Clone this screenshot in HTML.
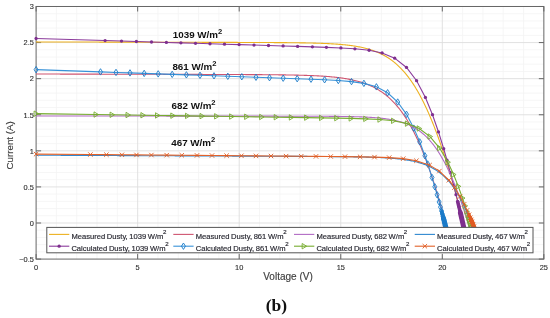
<!DOCTYPE html>
<html><head><meta charset="utf-8"><style>
html,body{margin:0;padding:0;background:#fff;}
body{width:550px;height:318px;overflow:hidden;position:relative;}
svg{position:absolute;left:0;top:0;}
</style></head><body>
<svg width="550" height="318" viewBox="0 0 550 318">
<path d="M56.41,6.49V259.08 M76.72,6.49V259.08 M97.03,6.49V259.08 M117.34,6.49V259.08 M157.96,6.49V259.08 M178.27,6.49V259.08 M198.58,6.49V259.08 M218.89,6.49V259.08 M259.51,6.49V259.08 M279.82,6.49V259.08 M300.13,6.49V259.08 M320.44,6.49V259.08 M361.06,6.49V259.08 M381.37,6.49V259.08 M401.68,6.49V259.08 M421.99,6.49V259.08 M462.61,6.49V259.08 M482.92,6.49V259.08 M503.23,6.49V259.08 M523.54,6.49V259.08 M36.10,251.87H543.85 M36.10,244.65H543.85 M36.10,237.43H543.85 M36.10,230.22H543.85 M36.10,215.78H543.85 M36.10,208.57H543.85 M36.10,201.35H543.85 M36.10,194.13H543.85 M36.10,179.70H543.85 M36.10,172.48H543.85 M36.10,165.26H543.85 M36.10,158.05H543.85 M36.10,143.61H543.85 M36.10,136.40H543.85 M36.10,129.18H543.85 M36.10,121.96H543.85 M36.10,107.53H543.85 M36.10,100.31H543.85 M36.10,93.09H543.85 M36.10,85.88H543.85 M36.10,71.44H543.85 M36.10,64.23H543.85 M36.10,57.01H543.85 M36.10,49.79H543.85 M36.10,35.36H543.85 M36.10,28.14H543.85 M36.10,20.92H543.85 M36.10,13.71H543.85" stroke="#F4F4F4" stroke-width="0.8" fill="none"/>
<path d="M137.65,6.49V259.08 M239.20,6.49V259.08 M340.75,6.49V259.08 M442.30,6.49V259.08 M36.10,223.00H543.85 M36.10,186.91H543.85 M36.10,150.83H543.85 M36.10,114.75H543.85 M36.10,78.66H543.85 M36.10,42.57H543.85" stroke="#DEDEDE" stroke-width="0.9" fill="none"/>
<rect x="36.10" y="6.49" width="507.75" height="252.59" fill="none" stroke="#666" stroke-width="1"/>
<path d="M36.10,259.08v-5M36.10,6.49v5M137.65,259.08v-5M137.65,6.49v5M239.20,259.08v-5M239.20,6.49v5M340.75,259.08v-5M340.75,6.49v5M442.30,259.08v-5M442.30,6.49v5M543.85,259.08v-5M543.85,6.49v5M36.10,259.08h5M543.85,259.08h-5M36.10,223.00h5M543.85,223.00h-5M36.10,186.91h5M543.85,186.91h-5M36.10,150.83h5M543.85,150.83h-5M36.10,114.75h5M543.85,114.75h-5M36.10,78.66h5M543.85,78.66h-5M36.10,42.57h5M543.85,42.57h-5M36.10,6.49h5M543.85,6.49h-5" stroke="#666" stroke-width="1" fill="none"/>
<path d="M36.10,41.92 L37.10,41.92 L38.13,41.93 L39.16,41.93 L40.18,41.93 L41.21,41.93 L42.24,41.94 L43.26,41.94 L44.29,41.94 L45.32,41.94 L46.34,41.95 L47.37,41.95 L48.40,41.95 L49.42,41.95 L50.45,41.96 L51.48,41.96 L52.51,41.96 L53.53,41.96 L54.56,41.97 L55.59,41.97 L56.61,41.97 L57.64,41.97 L58.67,41.98 L59.69,41.98 L60.72,41.98 L61.75,41.98 L62.77,41.99 L63.80,41.99 L64.83,41.99 L65.85,41.99 L66.88,42.00 L67.91,42.00 L68.93,42.00 L69.96,42.00 L70.99,42.01 L72.02,42.01 L73.04,42.01 L74.07,42.01 L75.10,42.02 L76.12,42.02 L77.15,42.02 L78.18,42.02 L79.20,42.03 L80.23,42.03 L81.26,42.03 L82.28,42.03 L83.31,42.04 L84.34,42.04 L85.36,42.04 L86.39,42.04 L87.42,42.05 L88.44,42.05 L89.47,42.05 L90.50,42.05 L91.52,42.06 L92.55,42.06 L93.58,42.06 L94.61,42.06 L95.63,42.07 L96.66,42.07 L97.69,42.07 L98.71,42.07 L99.74,42.08 L100.77,42.08 L101.79,42.08 L102.82,42.08 L103.85,42.09 L104.87,42.09 L105.90,42.09 L106.93,42.09 L107.95,42.10 L108.98,42.10 L110.01,42.10 L111.03,42.10 L112.06,42.11 L113.09,42.11 L114.12,42.11 L115.14,42.11 L116.17,42.12 L117.20,42.12 L118.22,42.12 L119.25,42.12 L120.28,42.13 L121.30,42.13 L122.33,42.13 L123.36,42.13 L124.38,42.14 L125.41,42.14 L126.44,42.14 L127.46,42.14 L128.49,42.15 L129.52,42.15 L130.54,42.15 L131.57,42.15 L132.60,42.15 L133.63,42.16 L134.65,42.16 L135.68,42.16 L136.71,42.16 L137.73,42.17 L138.76,42.17 L139.79,42.17 L140.81,42.17 L141.84,42.18 L142.87,42.18 L143.89,42.18 L144.92,42.18 L145.95,42.19 L146.97,42.19 L148.00,42.19 L149.03,42.19 L150.05,42.20 L151.08,42.20 L152.11,42.20 L153.13,42.20 L154.16,42.21 L155.19,42.21 L156.22,42.21 L157.24,42.21 L158.27,42.22 L159.30,42.22 L160.32,42.22 L161.35,42.22 L162.38,42.23 L163.40,42.23 L164.43,42.23 L165.46,42.23 L166.48,42.24 L167.51,42.24 L168.54,42.24 L169.56,42.24 L170.59,42.25 L171.62,42.25 L172.64,42.25 L173.67,42.25 L174.70,42.26 L175.73,42.26 L176.75,42.26 L177.78,42.26 L178.81,42.27 L179.83,42.27 L180.86,42.27 L181.89,42.28 L182.91,42.28 L183.94,42.28 L184.97,42.28 L185.99,42.29 L187.02,42.29 L188.05,42.29 L189.07,42.29 L190.10,42.30 L191.13,42.30 L192.15,42.30 L193.18,42.30 L194.21,42.31 L195.24,42.31 L196.26,42.31 L197.29,42.31 L198.32,42.32 L199.34,42.32 L200.37,42.32 L201.40,42.32 L202.42,42.33 L203.45,42.33 L204.48,42.33 L205.50,42.33 L206.53,42.34 L207.56,42.34 L208.58,42.34 L209.61,42.34 L210.64,42.35 L211.66,42.35 L212.69,42.35 L213.72,42.36 L214.75,42.36 L215.77,42.36 L216.80,42.36 L217.83,42.37 L218.85,42.37 L219.88,42.37 L220.91,42.38 L221.93,42.38 L222.96,42.38 L223.99,42.38 L225.01,42.39 L226.04,42.39 L227.07,42.39 L228.09,42.40 L229.12,42.40 L230.15,42.40 L231.18,42.40 L232.20,42.41 L233.23,42.41 L234.26,42.41 L235.28,42.42 L236.31,42.42 L237.34,42.42 L238.36,42.43 L239.39,42.43 L240.42,42.43 L241.44,42.44 L242.47,42.44 L243.50,42.44 L244.53,42.45 L245.55,42.45 L246.58,42.45 L247.61,42.46 L248.63,42.46 L249.66,42.46 L250.69,42.47 L251.71,42.47 L252.74,42.48 L253.77,42.48 L254.80,42.48 L255.82,42.49 L256.85,42.49 L257.88,42.50 L258.90,42.50 L259.93,42.50 L260.96,42.51 L261.99,42.51 L263.01,42.52 L264.04,42.52 L265.07,42.53 L266.09,42.53 L267.12,42.54 L268.15,42.54 L269.18,42.55 L270.20,42.56 L271.23,42.56 L272.26,42.57 L273.28,42.57 L274.31,42.58 L275.34,42.59 L276.37,42.59 L277.39,42.60 L278.42,42.61 L279.45,42.61 L280.48,42.62 L281.50,42.63 L282.53,42.64 L283.56,42.65 L284.59,42.65 L285.61,42.66 L286.64,42.67 L287.67,42.68 L288.70,42.69 L289.73,42.70 L290.75,42.71 L291.78,42.72 L292.81,42.74 L293.84,42.75 L294.87,42.76 L295.89,42.77 L296.92,42.79 L297.95,42.80 L298.98,42.82 L300.01,42.83 L301.04,42.85 L302.07,42.86 L303.09,42.88 L304.12,42.90 L305.15,42.92 L306.18,42.94 L307.21,42.96 L308.24,42.98 L309.27,43.00 L310.30,43.02 L311.33,43.05 L312.36,43.07 L313.39,43.10 L314.42,43.13 L315.45,43.15 L316.48,43.18 L317.51,43.21 L318.54,43.25 L319.57,43.28 L320.60,43.32 L321.64,43.35 L322.67,43.39 L323.70,43.43 L324.73,43.48 L325.76,43.52 L326.80,43.57 L327.83,43.62 L328.86,43.67 L329.90,43.72 L330.93,43.78 L331.97,43.84 L333.00,43.90 L334.04,43.96 L335.07,44.03 L336.11,44.10 L337.14,44.17 L338.18,44.25 L339.22,44.33 L340.26,44.42 L341.29,44.50 L342.33,44.60 L343.37,44.69 L344.41,44.80 L345.45,44.90 L346.50,45.02 L347.54,45.13 L348.58,45.26 L349.63,45.39 L350.67,45.52 L351.72,45.66 L352.76,45.81 L353.81,45.97 L354.86,46.13 L355.91,46.30 L356.96,46.48 L358.01,46.67 L359.06,46.87 L360.12,47.07 L361.17,47.29 L362.23,47.52 L363.29,47.76 L364.35,48.01 L365.32,48.25 L366.30,48.50 L367.28,48.76 L368.25,49.03 L369.23,49.32 L370.21,49.62 L371.20,49.93 L372.18,50.25 L373.17,50.59 L374.16,50.95 L375.15,51.32 L376.14,51.71 L377.14,52.11 L378.14,52.53 L379.14,52.97 L380.05,53.39 L380.96,53.83 L381.88,54.28 L382.80,54.75 L383.72,55.24 L384.65,55.75 L385.57,56.29 L386.50,56.84 L387.44,57.41 L388.37,58.01 L389.22,58.57 L390.07,59.15 L390.92,59.75 L391.77,60.37 L392.63,61.02 L393.49,61.69 L394.35,62.38 L395.12,63.02 L395.90,63.68 L396.67,64.36 L397.45,65.06 L398.23,65.78 L399.02,66.53 L399.81,67.30 L400.60,68.10 L401.30,68.82 L402.00,69.56 L402.70,70.32 L403.40,71.10 L404.11,71.90 L404.82,72.73 L405.53,73.58 L406.25,74.45 L406.97,75.35 L407.59,76.14 L408.21,76.95 L408.84,77.77 L409.47,78.62 L410.10,79.49 L410.73,80.38 L411.37,81.29 L412.01,82.23 L412.65,83.18 L413.29,84.16 L413.94,85.17 L414.49,86.02 L415.03,86.89 L415.58,87.78 L416.13,88.69 L416.68,89.61 L417.24,90.56 L417.80,91.52 L418.36,92.50 L418.92,93.51 L419.49,94.53 L420.06,95.57 L420.63,96.64 L421.20,97.72 L421.78,98.83 L422.24,99.73 L422.71,100.65 L423.18,101.58 L423.65,102.52 L424.12,103.49 L424.59,104.46 L425.07,105.45 L425.55,106.46 L426.03,107.49 L426.51,108.53 L427.00,109.59 L427.49,110.66 L427.98,111.75 L428.47,112.86 L428.96,113.99 L429.46,115.14 L429.96,116.30 L430.46,117.48 L430.97,118.69 L431.47,119.91 L431.86,120.84 L432.24,121.78 L432.62,122.73 L433.01,123.69 L433.40,124.66 L433.79,125.65 L434.18,126.65 L434.57,127.66 L434.97,128.68 L435.37,129.71 L435.76,130.76 L436.16,131.82 L436.57,132.89 L436.97,133.98 L437.37,135.08 L437.78,136.19 L438.19,137.31 L438.60,138.45 L439.01,139.60 L439.43,140.77 L439.84,141.95 L440.26,143.14 L440.68,144.35 L441.10,145.57 L441.53,146.81 L441.95,148.06 L442.38,149.33 L442.81,150.61 L443.24,151.91 L443.68,153.23 L444.11,154.56 L444.55,155.90 L444.99,157.26 L445.44,158.64 L445.88,160.04 L446.33,161.45 L446.78,162.88 L447.08,163.84 L447.38,164.81 L447.69,165.79 L447.99,166.77 L448.30,167.77 L448.60,168.77 L448.91,169.78 L449.22,170.79 L449.53,171.82 L449.84,172.85 L450.15,173.90 L450.46,174.95 L450.78,176.00 L451.09,177.07 L451.41,178.15 L451.73,179.23 L452.05,180.33 L452.37,181.43 L452.69,182.54 L453.01,183.66 L453.33,184.79 L453.66,185.92 L453.99,187.07 L454.31,188.23 L454.64,189.39 L454.97,190.57 L455.30,191.75 L455.64,192.94 L455.97,194.15 L456.30,195.36 L456.64,196.58 L456.98,197.81 L457.32,199.06 L457.66,200.31 L458.00,201.57 L458.34,202.84 L458.69,204.12 L459.03,205.42 L459.38,206.72 L459.73,208.03 L460.08,209.36 L460.43,210.69 L460.78,212.04 L461.14,213.39 L461.49,214.76 L461.85,216.14 L462.21,217.52 L462.57,218.92 L462.93,220.34 L463.30,221.76 L463.66,223.19 L464.03,224.64 L464.40,226.09 L464.77,227.56 L464.95,228.30" stroke="#EDB120" stroke-width="1.1" fill="none"/>
<path d="M36.10,38.49 L105.10,40.57 L121.50,41.07 L136.40,41.52 L151.50,41.98 L166.40,42.43 L180.90,42.86 L195.50,43.30 L210.00,43.74 L224.50,44.18 L239.10,44.62 L254.00,45.07 L268.50,45.51 L283.10,45.95 L297.60,46.40 L312.40,46.87 L326.40,47.36 L340.90,47.96 L354.90,48.79 L369.10,50.26 L382.10,52.93 L394.70,58.14 L406.50,67.45 L416.60,80.72 L425.40,97.42 L432.50,114.70 L438.50,131.95 L443.70,148.76 L447.00,160.27 L450.40,172.77 L453.60,185.09 L456.00,194.66 L457.64,201.36 L458.89,206.56 L459.84,210.55 L460.56,213.60 L461.10,215.92 L461.51,217.67 L461.85,219.11 L462.18,220.55 L462.51,222.00 L462.85,223.45 L463.18,224.90 L463.52,226.36 L463.85,227.82" stroke="#8B3A9B" stroke-width="1.1" fill="none"/>
<g><circle cx="36.10" cy="38.49" r="1.65" fill="#7E2F8E"/><circle cx="105.10" cy="40.57" r="1.65" fill="#7E2F8E"/><circle cx="121.50" cy="41.07" r="1.65" fill="#7E2F8E"/><circle cx="136.40" cy="41.52" r="1.65" fill="#7E2F8E"/><circle cx="151.50" cy="41.98" r="1.65" fill="#7E2F8E"/><circle cx="166.40" cy="42.43" r="1.65" fill="#7E2F8E"/><circle cx="180.90" cy="42.86" r="1.65" fill="#7E2F8E"/><circle cx="195.50" cy="43.30" r="1.65" fill="#7E2F8E"/><circle cx="210.00" cy="43.74" r="1.65" fill="#7E2F8E"/><circle cx="224.50" cy="44.18" r="1.65" fill="#7E2F8E"/><circle cx="239.10" cy="44.62" r="1.65" fill="#7E2F8E"/><circle cx="254.00" cy="45.07" r="1.65" fill="#7E2F8E"/><circle cx="268.50" cy="45.51" r="1.65" fill="#7E2F8E"/><circle cx="283.10" cy="45.95" r="1.65" fill="#7E2F8E"/><circle cx="297.60" cy="46.40" r="1.65" fill="#7E2F8E"/><circle cx="312.40" cy="46.87" r="1.65" fill="#7E2F8E"/><circle cx="326.40" cy="47.36" r="1.65" fill="#7E2F8E"/><circle cx="340.90" cy="47.96" r="1.65" fill="#7E2F8E"/><circle cx="354.90" cy="48.79" r="1.65" fill="#7E2F8E"/><circle cx="369.10" cy="50.26" r="1.65" fill="#7E2F8E"/><circle cx="382.10" cy="52.93" r="1.65" fill="#7E2F8E"/><circle cx="394.70" cy="58.14" r="1.65" fill="#7E2F8E"/><circle cx="406.50" cy="67.45" r="1.65" fill="#7E2F8E"/><circle cx="416.60" cy="80.72" r="1.65" fill="#7E2F8E"/><circle cx="425.40" cy="97.42" r="1.65" fill="#7E2F8E"/><circle cx="432.50" cy="114.70" r="1.65" fill="#7E2F8E"/><circle cx="438.50" cy="131.95" r="1.65" fill="#7E2F8E"/><circle cx="443.70" cy="148.76" r="1.65" fill="#7E2F8E"/><circle cx="447.00" cy="160.27" r="1.65" fill="#7E2F8E"/><circle cx="450.40" cy="172.77" r="1.65" fill="#7E2F8E"/><circle cx="453.60" cy="185.09" r="1.65" fill="#7E2F8E"/><circle cx="456.00" cy="194.66" r="1.65" fill="#7E2F8E"/><circle cx="457.64" cy="201.36" r="1.65" fill="#7E2F8E"/><circle cx="458.89" cy="206.56" r="1.65" fill="#7E2F8E"/><circle cx="459.84" cy="210.55" r="1.65" fill="#7E2F8E"/><circle cx="460.56" cy="213.60" r="1.65" fill="#7E2F8E"/><circle cx="461.10" cy="215.92" r="1.65" fill="#7E2F8E"/><circle cx="461.51" cy="217.67" r="1.65" fill="#7E2F8E"/><circle cx="461.85" cy="219.11" r="1.65" fill="#7E2F8E"/><circle cx="462.18" cy="220.55" r="1.65" fill="#7E2F8E"/><circle cx="462.51" cy="222.00" r="1.65" fill="#7E2F8E"/><circle cx="462.85" cy="223.45" r="1.65" fill="#7E2F8E"/><circle cx="463.18" cy="224.90" r="1.65" fill="#7E2F8E"/><circle cx="463.52" cy="226.36" r="1.65" fill="#7E2F8E"/><circle cx="463.85" cy="227.82" r="1.65" fill="#7E2F8E"/></g>
<path d="M457.82,202.10 L458.03,202.97 L458.24,203.85 L458.45,204.73 L458.67,205.62 L458.88,206.51 L459.09,207.41 L459.31,208.31 L459.52,209.22 L459.74,210.13 L459.96,211.05 L460.18,211.97 L460.40,212.90 L460.62,213.84 L460.84,214.78 L461.06,215.72 L461.28,216.67 L461.50,217.63 L461.73,218.59 L461.95,219.55 L462.17,220.52 L462.40,221.50 L462.63,222.49 L462.85,223.47 L463.08,224.47 L463.31,225.47 L463.54,226.47 L463.77,227.49 L464.00,228.50 L464.00,228.50" stroke="#7E2F8E" stroke-width="3.6" stroke-linecap="round" fill="none"/>
<path d="M460.40,212.90 L460.62,213.84 L460.84,214.78 L461.06,215.72 L461.28,216.67 L461.50,217.63 L461.73,218.59 L461.95,219.55 L462.17,220.52 L462.40,221.50 L462.63,222.49 L462.85,223.47 L463.08,224.47 L463.31,225.47 L463.54,226.47 L463.77,227.49 L464.00,228.50 L464.00,228.50" stroke="#7E2F8E" stroke-width="5.0" stroke-linecap="round" fill="none"/>
<path d="M36.10,74.02 L37.16,74.02 L38.22,74.02 L39.29,74.03 L40.35,74.03 L41.42,74.03 L42.48,74.03 L43.55,74.04 L44.61,74.04 L45.68,74.04 L46.74,74.04 L47.81,74.05 L48.87,74.05 L49.94,74.05 L51.00,74.05 L52.07,74.06 L53.13,74.06 L54.20,74.06 L55.26,74.06 L56.33,74.07 L57.39,74.07 L58.46,74.07 L59.52,74.07 L60.59,74.08 L61.65,74.08 L62.72,74.08 L63.78,74.08 L64.85,74.09 L65.91,74.09 L66.98,74.09 L68.04,74.10 L69.11,74.10 L70.17,74.10 L71.24,74.10 L72.30,74.11 L73.37,74.11 L74.43,74.11 L75.50,74.11 L76.56,74.12 L77.63,74.12 L78.69,74.12 L79.76,74.12 L80.82,74.13 L81.89,74.13 L82.95,74.13 L84.02,74.13 L85.08,74.14 L86.15,74.14 L87.21,74.14 L88.28,74.14 L89.34,74.15 L90.41,74.15 L91.47,74.15 L92.54,74.15 L93.60,74.16 L94.67,74.16 L95.73,74.16 L96.80,74.16 L97.86,74.17 L98.93,74.17 L99.99,74.17 L101.06,74.17 L102.13,74.18 L103.19,74.18 L104.26,74.18 L105.32,74.18 L106.39,74.19 L107.45,74.19 L108.52,74.19 L109.58,74.19 L110.65,74.20 L111.71,74.20 L112.78,74.20 L113.84,74.20 L114.91,74.21 L115.97,74.21 L117.04,74.21 L118.10,74.22 L119.17,74.22 L120.23,74.22 L121.30,74.22 L122.36,74.23 L123.43,74.23 L124.49,74.23 L125.56,74.23 L126.62,74.24 L127.69,74.24 L128.75,74.24 L129.82,74.24 L130.88,74.25 L131.95,74.25 L133.01,74.25 L134.08,74.25 L135.14,74.26 L136.21,74.26 L137.27,74.26 L138.34,74.26 L139.40,74.27 L140.47,74.27 L141.53,74.27 L142.60,74.27 L143.66,74.28 L144.73,74.28 L145.79,74.28 L146.86,74.28 L147.92,74.29 L148.99,74.29 L150.05,74.29 L151.12,74.30 L152.18,74.30 L153.25,74.30 L154.31,74.30 L155.38,74.31 L156.44,74.31 L157.51,74.31 L158.57,74.31 L159.64,74.32 L160.70,74.32 L161.77,74.32 L162.83,74.32 L163.90,74.33 L164.96,74.33 L166.03,74.33 L167.09,74.33 L168.16,74.34 L169.22,74.34 L170.29,74.34 L171.35,74.34 L172.42,74.35 L173.48,74.35 L174.55,74.35 L175.61,74.36 L176.68,74.36 L177.74,74.36 L178.81,74.36 L179.87,74.37 L180.94,74.37 L182.00,74.37 L183.07,74.37 L184.13,74.38 L185.20,74.38 L186.26,74.38 L187.33,74.39 L188.39,74.39 L189.46,74.39 L190.52,74.39 L191.59,74.40 L192.65,74.40 L193.72,74.40 L194.78,74.40 L195.85,74.41 L196.91,74.41 L197.98,74.41 L199.04,74.42 L200.11,74.42 L201.17,74.42 L202.24,74.42 L203.30,74.43 L204.37,74.43 L205.43,74.43 L206.50,74.44 L207.56,74.44 L208.63,74.44 L209.70,74.45 L210.76,74.45 L211.83,74.45 L212.89,74.46 L213.96,74.46 L215.02,74.46 L216.09,74.46 L217.15,74.47 L218.22,74.47 L219.28,74.47 L220.35,74.48 L221.41,74.48 L222.48,74.49 L223.54,74.49 L224.61,74.49 L225.67,74.50 L226.74,74.50 L227.80,74.50 L228.87,74.51 L229.93,74.51 L231.00,74.51 L232.06,74.52 L233.13,74.52 L234.19,74.53 L235.26,74.53 L236.32,74.53 L237.39,74.54 L238.45,74.54 L239.52,74.55 L240.58,74.55 L241.65,74.56 L242.72,74.56 L243.78,74.57 L244.85,74.57 L245.91,74.58 L246.98,74.58 L248.04,74.59 L249.11,74.59 L250.17,74.60 L251.24,74.60 L252.30,74.61 L253.37,74.61 L254.43,74.62 L255.50,74.63 L256.56,74.63 L257.63,74.64 L258.70,74.65 L259.76,74.65 L260.83,74.66 L261.89,74.67 L262.96,74.68 L264.02,74.68 L265.09,74.69 L266.15,74.70 L267.22,74.71 L268.29,74.72 L269.35,74.73 L270.42,74.74 L271.48,74.75 L272.55,74.76 L273.61,74.77 L274.68,74.78 L275.75,74.79 L276.81,74.80 L277.88,74.81 L278.94,74.83 L280.01,74.84 L281.08,74.85 L282.14,74.87 L283.21,74.88 L284.28,74.90 L285.34,74.91 L286.41,74.93 L287.48,74.95 L288.54,74.96 L289.61,74.98 L290.68,75.00 L291.74,75.02 L292.81,75.04 L293.88,75.06 L294.94,75.09 L296.01,75.11 L297.08,75.13 L298.14,75.16 L299.21,75.18 L300.28,75.21 L301.35,75.24 L302.42,75.27 L303.48,75.30 L304.55,75.34 L305.62,75.37 L306.69,75.40 L307.76,75.44 L308.83,75.48 L309.89,75.52 L310.96,75.56 L312.03,75.61 L313.10,75.65 L314.17,75.70 L315.24,75.75 L316.31,75.80 L317.38,75.86 L318.45,75.91 L319.52,75.97 L320.60,76.04 L321.67,76.10 L322.74,76.17 L323.81,76.24 L324.88,76.31 L325.96,76.39 L327.03,76.47 L328.10,76.56 L329.18,76.65 L330.25,76.74 L331.33,76.84 L332.40,76.94 L333.48,77.04 L334.55,77.15 L335.63,77.27 L336.62,77.38 L337.62,77.50 L338.61,77.62 L339.61,77.75 L340.61,77.88 L341.60,78.01 L342.60,78.16 L343.60,78.31 L344.60,78.46 L345.60,78.62 L346.60,78.79 L347.60,78.97 L348.60,79.15 L349.60,79.34 L350.61,79.54 L351.61,79.75 L352.62,79.97 L353.62,80.19 L354.63,80.43 L355.64,80.67 L356.65,80.93 L357.66,81.20 L358.67,81.48 L359.68,81.77 L360.69,82.07 L361.71,82.38 L362.73,82.71 L363.74,83.06 L364.76,83.41 L365.79,83.79 L366.72,84.14 L367.66,84.51 L368.60,84.90 L369.55,85.30 L370.49,85.71 L371.43,86.15 L372.38,86.59 L373.33,87.06 L374.28,87.55 L375.23,88.05 L376.19,88.57 L377.06,89.07 L377.93,89.58 L378.80,90.11 L379.68,90.66 L380.56,91.22 L381.44,91.81 L382.32,92.42 L383.20,93.05 L384.09,93.70 L384.89,94.31 L385.69,94.94 L386.49,95.59 L387.30,96.25 L388.11,96.94 L388.92,97.66 L389.73,98.39 L390.54,99.15 L391.27,99.84 L392.00,100.56 L392.73,101.29 L393.46,102.04 L394.20,102.82 L394.94,103.62 L395.68,104.44 L396.42,105.29 L397.07,106.05 L397.72,106.82 L398.38,107.62 L399.04,108.44 L399.70,109.27 L400.36,110.13 L401.02,111.01 L401.69,111.91 L402.35,112.84 L403.03,113.78 L403.60,114.61 L404.18,115.46 L404.76,116.33 L405.34,117.21 L405.93,118.11 L406.51,119.04 L407.10,119.98 L407.69,120.94 L408.29,121.92 L408.88,122.93 L409.48,123.95 L409.98,124.82 L410.48,125.71 L410.98,126.61 L411.48,127.53 L411.99,128.46 L412.50,129.41 L413.01,130.38 L413.52,131.36 L414.03,132.36 L414.54,133.38 L415.06,134.42 L415.58,135.48 L416.10,136.55 L416.62,137.65 L417.14,138.76 L417.67,139.89 L418.09,140.81 L418.52,141.75 L418.94,142.69 L419.37,143.65 L419.79,144.63 L420.22,145.62 L420.65,146.62 L421.09,147.63 L421.52,148.66 L421.96,149.71 L422.39,150.77 L422.83,151.84 L423.27,152.93 L423.71,154.04 L424.15,155.16 L424.60,156.29 L425.04,157.45 L425.49,158.62 L425.94,159.80 L426.39,161.00 L426.85,162.22 L427.30,163.46 L427.76,164.72 L428.10,165.67 L428.45,166.63 L428.79,167.60 L429.14,168.58 L429.49,169.58 L429.84,170.58 L430.19,171.60 L430.54,172.62 L430.89,173.66 L431.24,174.70 L431.60,175.76 L431.95,176.83 L432.31,177.91 L432.67,179.00 L433.03,180.11 L433.39,181.22 L433.75,182.35 L434.11,183.49 L434.48,184.64 L434.84,185.80 L435.21,186.98 L435.58,188.17 L435.95,189.37 L436.32,190.58 L436.69,191.81 L437.06,193.05 L437.44,194.30 L437.81,195.57 L438.19,196.85 L438.57,198.14 L438.95,199.44 L439.33,200.76 L439.71,202.10 L440.10,203.45 L440.48,204.81 L440.87,206.19 L441.26,207.58 L441.65,208.98 L442.04,210.41 L442.43,211.84 L442.70,212.81 L442.96,213.78 L443.23,214.76 L443.49,215.75 L443.76,216.74 L444.02,217.74 L444.29,218.75 L444.56,219.76 L444.83,220.79 L445.10,221.81 L445.37,222.85 L445.64,223.89 L445.91,224.95 L446.18,226.00 L446.46,227.07 L446.73,228.14 L446.87,228.68" stroke="#CF5570" stroke-width="1.1" fill="none"/>
<path d="M36.10,69.67 L100.50,71.89 L116.00,72.43 L130.00,72.91 L144.20,73.40 L158.20,73.88 L172.20,74.36 L186.40,74.85 L200.00,75.32 L214.00,75.81 L227.80,76.28 L241.80,76.77 L256.00,77.26 L269.50,77.72 L283.20,78.20 L297.20,78.70 L311.00,79.22 L324.60,79.79 L338.30,80.52 L351.50,81.59 L363.90,83.37 L376.40,86.84 L387.60,92.77 L397.70,102.01 L406.50,114.32 L413.80,128.13 L419.70,141.83 L424.90,155.76 L427.70,163.96 L432.00,177.45 L434.80,186.79 L437.10,194.77 L439.10,201.94 L440.50,207.07 L441.55,210.98 L442.34,213.97 L442.94,216.23 L443.39,217.94 L443.77,219.40 L444.15,220.87 L444.53,222.35 L444.91,223.83 L445.29,225.32 L445.67,226.81 L446.05,228.31" stroke="#3892D8" stroke-width="1.1" fill="none"/>
<g><path d="M36.10,66.47L38.10,69.67L36.10,72.87L34.10,69.67Z" fill="none" stroke="#1A7AC8" stroke-width="0.9"/><path d="M100.50,68.69L102.50,71.89L100.50,75.09L98.50,71.89Z" fill="none" stroke="#1A7AC8" stroke-width="0.9"/><path d="M116.00,69.23L118.00,72.43L116.00,75.63L114.00,72.43Z" fill="none" stroke="#1A7AC8" stroke-width="0.9"/><path d="M130.00,69.71L132.00,72.91L130.00,76.11L128.00,72.91Z" fill="none" stroke="#1A7AC8" stroke-width="0.9"/><path d="M144.20,70.20L146.20,73.40L144.20,76.60L142.20,73.40Z" fill="none" stroke="#1A7AC8" stroke-width="0.9"/><path d="M158.20,70.68L160.20,73.88L158.20,77.08L156.20,73.88Z" fill="none" stroke="#1A7AC8" stroke-width="0.9"/><path d="M172.20,71.16L174.20,74.36L172.20,77.56L170.20,74.36Z" fill="none" stroke="#1A7AC8" stroke-width="0.9"/><path d="M186.40,71.65L188.40,74.85L186.40,78.05L184.40,74.85Z" fill="none" stroke="#1A7AC8" stroke-width="0.9"/><path d="M200.00,72.12L202.00,75.32L200.00,78.52L198.00,75.32Z" fill="none" stroke="#1A7AC8" stroke-width="0.9"/><path d="M214.00,72.61L216.00,75.81L214.00,79.01L212.00,75.81Z" fill="none" stroke="#1A7AC8" stroke-width="0.9"/><path d="M227.80,73.08L229.80,76.28L227.80,79.48L225.80,76.28Z" fill="none" stroke="#1A7AC8" stroke-width="0.9"/><path d="M241.80,73.57L243.80,76.77L241.80,79.97L239.80,76.77Z" fill="none" stroke="#1A7AC8" stroke-width="0.9"/><path d="M256.00,74.06L258.00,77.26L256.00,80.46L254.00,77.26Z" fill="none" stroke="#1A7AC8" stroke-width="0.9"/><path d="M269.50,74.52L271.50,77.72L269.50,80.92L267.50,77.72Z" fill="none" stroke="#1A7AC8" stroke-width="0.9"/><path d="M283.20,75.00L285.20,78.20L283.20,81.40L281.20,78.20Z" fill="none" stroke="#1A7AC8" stroke-width="0.9"/><path d="M297.20,75.50L299.20,78.70L297.20,81.90L295.20,78.70Z" fill="none" stroke="#1A7AC8" stroke-width="0.9"/><path d="M311.00,76.02L313.00,79.22L311.00,82.42L309.00,79.22Z" fill="none" stroke="#1A7AC8" stroke-width="0.9"/><path d="M324.60,76.59L326.60,79.79L324.60,82.99L322.60,79.79Z" fill="none" stroke="#1A7AC8" stroke-width="0.9"/><path d="M338.30,77.32L340.30,80.52L338.30,83.72L336.30,80.52Z" fill="none" stroke="#1A7AC8" stroke-width="0.9"/><path d="M351.50,78.39L353.50,81.59L351.50,84.79L349.50,81.59Z" fill="none" stroke="#1A7AC8" stroke-width="0.9"/><path d="M363.90,80.17L365.90,83.37L363.90,86.57L361.90,83.37Z" fill="none" stroke="#1A7AC8" stroke-width="0.9"/><path d="M376.40,83.64L378.40,86.84L376.40,90.04L374.40,86.84Z" fill="none" stroke="#1A7AC8" stroke-width="0.9"/><path d="M387.60,89.57L389.60,92.77L387.60,95.97L385.60,92.77Z" fill="none" stroke="#1A7AC8" stroke-width="0.9"/><path d="M397.70,98.81L399.70,102.01L397.70,105.21L395.70,102.01Z" fill="none" stroke="#1A7AC8" stroke-width="0.9"/><path d="M406.50,111.12L408.50,114.32L406.50,117.52L404.50,114.32Z" fill="none" stroke="#1A7AC8" stroke-width="0.9"/><path d="M413.80,124.93L415.80,128.13L413.80,131.33L411.80,128.13Z" fill="none" stroke="#1A7AC8" stroke-width="0.9"/><path d="M419.70,138.63L421.70,141.83L419.70,145.03L417.70,141.83Z" fill="none" stroke="#1A7AC8" stroke-width="0.9"/><path d="M424.90,152.56L426.90,155.76L424.90,158.96L422.90,155.76Z" fill="none" stroke="#1A7AC8" stroke-width="0.9"/><path d="M427.70,160.76L429.70,163.96L427.70,167.16L425.70,163.96Z" fill="none" stroke="#1A7AC8" stroke-width="0.9"/><path d="M432.00,174.25L434.00,177.45L432.00,180.65L430.00,177.45Z" fill="none" stroke="#1A7AC8" stroke-width="0.9"/><path d="M434.80,183.59L436.80,186.79L434.80,189.99L432.80,186.79Z" fill="none" stroke="#1A7AC8" stroke-width="0.9"/><path d="M437.10,191.57L439.10,194.77L437.10,197.97L435.10,194.77Z" fill="none" stroke="#1A7AC8" stroke-width="0.9"/><path d="M439.10,198.74L441.10,201.94L439.10,205.14L437.10,201.94Z" fill="none" stroke="#1A7AC8" stroke-width="0.9"/><path d="M440.50,203.87L442.50,207.07L440.50,210.27L438.50,207.07Z" fill="none" stroke="#1A7AC8" stroke-width="0.9"/><path d="M441.55,207.78L443.55,210.98L441.55,214.18L439.55,210.98Z" fill="none" stroke="#1A7AC8" stroke-width="0.9"/><path d="M442.34,210.77L444.34,213.97L442.34,217.17L440.34,213.97Z" fill="none" stroke="#1A7AC8" stroke-width="0.9"/><path d="M442.94,213.03L444.94,216.23L442.94,219.43L440.94,216.23Z" fill="none" stroke="#1A7AC8" stroke-width="0.9"/><path d="M443.39,214.74L445.39,217.94L443.39,221.14L441.39,217.94Z" fill="none" stroke="#1A7AC8" stroke-width="0.9"/><path d="M443.77,216.20L445.77,219.40L443.77,222.60L441.77,219.40Z" fill="none" stroke="#1A7AC8" stroke-width="0.9"/><path d="M444.15,217.67L446.15,220.87L444.15,224.07L442.15,220.87Z" fill="none" stroke="#1A7AC8" stroke-width="0.9"/><path d="M444.53,219.15L446.53,222.35L444.53,225.55L442.53,222.35Z" fill="none" stroke="#1A7AC8" stroke-width="0.9"/><path d="M444.91,220.63L446.91,223.83L444.91,227.03L442.91,223.83Z" fill="none" stroke="#1A7AC8" stroke-width="0.9"/><path d="M445.29,222.12L447.29,225.32L445.29,228.52L443.29,225.32Z" fill="none" stroke="#1A7AC8" stroke-width="0.9"/><path d="M445.67,223.61L447.67,226.81L445.67,230.01L443.67,226.81Z" fill="none" stroke="#1A7AC8" stroke-width="0.9"/><path d="M446.05,225.11L448.05,228.31L446.05,231.51L444.05,228.31Z" fill="none" stroke="#1A7AC8" stroke-width="0.9"/></g>
<path d="M441.74,211.69 L441.93,212.42 L442.13,213.15 L442.32,213.88 L442.52,214.62 L442.71,215.36 L442.91,216.11 L443.11,216.86 L443.30,217.62 L443.50,218.38 L443.70,219.14 L443.90,219.91 L444.10,220.68 L444.30,221.46 L444.50,222.24 L444.70,223.02 L444.91,223.81 L445.11,224.61 L445.32,225.41 L445.52,226.21 L445.73,227.02 L445.93,227.83 L446.14,228.65 L446.14,228.65" stroke="#1A7AC8" stroke-width="3.6" stroke-linecap="round" fill="none"/>
<path d="M443.50,218.38 L443.70,219.14 L443.90,219.91 L444.10,220.68 L444.30,221.46 L444.50,222.24 L444.70,223.02 L444.91,223.81 L445.11,224.61 L445.32,225.41 L445.52,226.21 L445.73,227.02 L445.93,227.83 L446.14,228.65 L446.14,228.65" stroke="#1A7AC8" stroke-width="5.0" stroke-linecap="round" fill="none"/>
<path d="M36.10,115.96 L37.13,115.97 L38.17,115.97 L39.21,115.97 L40.24,115.97 L41.28,115.97 L42.32,115.97 L43.36,115.97 L44.39,115.97 L45.43,115.97 L46.47,115.97 L47.50,115.97 L48.54,115.98 L49.58,115.98 L50.61,115.98 L51.65,115.98 L52.69,115.98 L53.72,115.98 L54.76,115.98 L55.80,115.98 L56.84,115.98 L57.87,115.98 L58.91,115.98 L59.95,115.98 L60.98,115.99 L62.02,115.99 L63.06,115.99 L64.09,115.99 L65.13,115.99 L66.17,115.99 L67.21,115.99 L68.24,115.99 L69.28,115.99 L70.32,115.99 L71.35,115.99 L72.39,116.00 L73.43,116.00 L74.46,116.00 L75.50,116.00 L76.54,116.00 L77.58,116.00 L78.61,116.00 L79.65,116.00 L80.69,116.00 L81.72,116.00 L82.76,116.00 L83.80,116.01 L84.83,116.01 L85.87,116.01 L86.91,116.01 L87.95,116.01 L88.98,116.01 L90.02,116.01 L91.06,116.01 L92.09,116.01 L93.13,116.01 L94.17,116.01 L95.20,116.01 L96.24,116.02 L97.28,116.02 L98.32,116.02 L99.35,116.02 L100.39,116.02 L101.43,116.02 L102.46,116.02 L103.50,116.02 L104.54,116.02 L105.57,116.02 L106.61,116.02 L107.65,116.03 L108.68,116.03 L109.72,116.03 L110.76,116.03 L111.80,116.03 L112.83,116.03 L113.87,116.03 L114.91,116.03 L115.94,116.03 L116.98,116.03 L118.02,116.03 L119.05,116.03 L120.09,116.04 L121.13,116.04 L122.17,116.04 L123.20,116.04 L124.24,116.04 L125.28,116.04 L126.31,116.04 L127.35,116.04 L128.39,116.04 L129.42,116.04 L130.46,116.04 L131.50,116.05 L132.54,116.05 L133.57,116.05 L134.61,116.05 L135.65,116.05 L136.68,116.05 L137.72,116.05 L138.76,116.05 L139.79,116.05 L140.83,116.05 L141.87,116.05 L142.91,116.06 L143.94,116.06 L144.98,116.06 L146.02,116.06 L147.05,116.06 L148.09,116.06 L149.13,116.06 L150.16,116.06 L151.20,116.06 L152.24,116.06 L153.28,116.06 L154.31,116.06 L155.35,116.07 L156.39,116.07 L157.42,116.07 L158.46,116.07 L159.50,116.07 L160.53,116.07 L161.57,116.07 L162.61,116.07 L163.65,116.07 L164.68,116.07 L165.72,116.07 L166.76,116.08 L167.79,116.08 L168.83,116.08 L169.87,116.08 L170.90,116.08 L171.94,116.08 L172.98,116.08 L174.01,116.08 L175.05,116.08 L176.09,116.08 L177.13,116.08 L178.16,116.08 L179.20,116.09 L180.24,116.09 L181.27,116.09 L182.31,116.09 L183.35,116.09 L184.38,116.09 L185.42,116.09 L186.46,116.09 L187.50,116.09 L188.53,116.09 L189.57,116.09 L190.61,116.10 L191.64,116.10 L192.68,116.10 L193.72,116.10 L194.75,116.10 L195.79,116.10 L196.83,116.10 L197.87,116.10 L198.90,116.10 L199.94,116.10 L200.98,116.10 L202.01,116.11 L203.05,116.11 L204.09,116.11 L205.12,116.11 L206.16,116.11 L207.20,116.11 L208.24,116.11 L209.27,116.11 L210.31,116.11 L211.35,116.11 L212.38,116.11 L213.42,116.12 L214.46,116.12 L215.49,116.12 L216.53,116.12 L217.57,116.12 L218.61,116.12 L219.64,116.12 L220.68,116.12 L221.72,116.12 L222.75,116.12 L223.79,116.12 L224.83,116.12 L225.86,116.13 L226.90,116.13 L227.94,116.13 L228.98,116.13 L230.01,116.13 L231.05,116.13 L232.09,116.13 L233.12,116.13 L234.16,116.13 L235.20,116.13 L236.23,116.13 L237.27,116.14 L238.31,116.14 L239.34,116.14 L240.38,116.14 L241.42,116.14 L242.46,116.14 L243.49,116.14 L244.53,116.14 L245.57,116.14 L246.60,116.14 L247.64,116.15 L248.68,116.15 L249.71,116.15 L250.75,116.15 L251.79,116.15 L252.83,116.15 L253.86,116.15 L254.90,116.15 L255.94,116.15 L256.97,116.15 L258.01,116.15 L259.05,116.16 L260.08,116.16 L261.12,116.16 L262.16,116.16 L263.20,116.16 L264.23,116.16 L265.27,116.16 L266.31,116.16 L267.34,116.16 L268.38,116.17 L269.42,116.17 L270.46,116.17 L271.49,116.17 L272.53,116.17 L273.57,116.17 L274.60,116.17 L275.64,116.17 L276.68,116.17 L277.71,116.18 L278.75,116.18 L279.79,116.18 L280.83,116.18 L281.86,116.18 L282.90,116.18 L283.94,116.18 L284.97,116.19 L286.01,116.19 L287.05,116.19 L288.08,116.19 L289.12,116.19 L290.16,116.19 L291.20,116.19 L292.23,116.20 L293.27,116.20 L294.31,116.20 L295.34,116.20 L296.38,116.20 L297.42,116.21 L298.46,116.21 L299.49,116.21 L300.53,116.21 L301.57,116.21 L302.60,116.22 L303.64,116.22 L304.68,116.22 L305.72,116.22 L306.75,116.23 L307.79,116.23 L308.83,116.23 L309.87,116.24 L310.90,116.24 L311.94,116.24 L312.98,116.25 L314.01,116.25 L315.05,116.25 L316.09,116.26 L317.13,116.26 L318.16,116.27 L319.20,116.27 L320.24,116.27 L321.28,116.28 L322.31,116.29 L323.35,116.29 L324.39,116.30 L325.43,116.30 L326.46,116.31 L327.50,116.32 L328.54,116.32 L329.58,116.33 L330.62,116.34 L331.65,116.35 L332.69,116.35 L333.73,116.36 L334.77,116.37 L335.81,116.38 L336.84,116.39 L337.88,116.40 L338.92,116.42 L339.96,116.43 L341.00,116.44 L342.04,116.45 L343.08,116.47 L344.12,116.48 L345.15,116.50 L346.19,116.52 L347.23,116.54 L348.27,116.55 L349.31,116.57 L350.35,116.60 L351.39,116.62 L352.43,116.64 L353.47,116.67 L354.51,116.69 L355.55,116.72 L356.59,116.75 L357.63,116.78 L358.68,116.81 L359.72,116.85 L360.76,116.88 L361.80,116.92 L362.84,116.96 L363.89,117.01 L364.93,117.05 L365.97,117.10 L367.02,117.15 L368.06,117.21 L369.11,117.26 L370.15,117.33 L371.20,117.39 L372.24,117.46 L373.29,117.53 L374.34,117.60 L375.38,117.69 L376.43,117.77 L377.48,117.86 L378.53,117.96 L379.58,118.06 L380.63,118.16 L381.69,118.28 L382.74,118.39 L383.79,118.52 L384.85,118.66 L385.90,118.80 L386.96,118.95 L388.02,119.10 L389.08,119.27 L390.14,119.45 L391.20,119.64 L392.27,119.84 L393.33,120.05 L394.40,120.27 L395.38,120.49 L396.36,120.71 L397.34,120.95 L398.33,121.21 L399.31,121.47 L400.30,121.75 L401.29,122.05 L402.29,122.36 L403.28,122.68 L404.28,123.03 L405.28,123.39 L406.28,123.78 L407.28,124.18 L408.29,124.60 L409.21,125.01 L410.13,125.44 L411.06,125.88 L411.99,126.35 L412.92,126.84 L413.85,127.36 L414.79,127.90 L415.73,128.46 L416.58,129.00 L417.43,129.55 L418.29,130.13 L419.15,130.74 L420.01,131.37 L420.88,132.03 L421.75,132.72 L422.53,133.36 L423.31,134.02 L424.09,134.71 L424.88,135.42 L425.67,136.17 L426.47,136.94 L427.27,137.74 L427.97,138.46 L428.68,139.21 L429.39,139.99 L430.10,140.79 L430.82,141.62 L431.54,142.48 L432.27,143.37 L432.89,144.15 L433.52,144.96 L434.15,145.79 L434.78,146.64 L435.42,147.52 L436.06,148.42 L436.71,149.35 L437.36,150.31 L438.01,151.29 L438.55,152.14 L439.10,153.00 L439.65,153.88 L440.21,154.79 L440.77,155.71 L441.33,156.66 L441.89,157.63 L442.46,158.63 L443.03,159.65 L443.60,160.69 L444.18,161.76 L444.76,162.85 L445.23,163.74 L445.70,164.66 L446.17,165.58 L446.64,166.53 L447.12,167.50 L447.60,168.48 L448.08,169.48 L448.56,170.50 L449.05,171.54 L449.54,172.60 L450.03,173.68 L450.53,174.79 L451.02,175.91 L451.53,177.05 L452.03,178.22 L452.54,179.41 L453.05,180.62 L453.43,181.55 L453.82,182.48 L454.21,183.43 L454.60,184.40 L454.99,185.38 L455.38,186.37 L455.78,187.38 L456.17,188.40 L456.57,189.43 L456.98,190.48 L457.38,191.55 L457.79,192.63 L458.19,193.73 L458.60,194.84 L459.02,195.97 L459.43,197.11 L459.85,198.27 L460.27,199.45 L460.69,200.65 L461.11,201.86 L461.54,203.09 L461.97,204.33 L462.40,205.60 L462.83,206.88 L463.27,208.18 L463.70,209.50 L464.14,210.84 L464.59,212.20 L465.03,213.58 L465.48,214.97 L465.93,216.39 L466.24,217.35 L466.54,218.31 L466.85,219.29 L467.15,220.27 L467.46,221.27 L467.77,222.27 L468.08,223.28 L468.39,224.30 L468.70,225.33 L469.02,226.38 L469.33,227.43 L469.65,228.49 L469.65,228.49" stroke="#B26BC4" stroke-width="1.1" fill="none"/>
<path d="M36.10,113.67 L96.00,114.55 L112.10,114.78 L128.00,115.02 L142.90,115.24 L157.50,115.45 L172.80,115.67 L187.50,115.89 L202.00,116.10 L216.60,116.32 L231.60,116.54 L246.60,116.76 L261.60,116.98 L276.20,117.19 L291.30,117.42 L306.60,117.65 L321.50,117.88 L336.70,118.13 L351.10,118.42 L365.70,118.83 L379.90,119.52 L393.50,120.81 L407.40,123.63 L419.20,128.49 L430.00,136.54 L439.60,148.05 L447.90,162.26 L453.60,174.58 L458.30,186.34 L462.50,198.08 L465.08,205.83 L466.85,211.41 L468.05,215.29 L468.85,217.91 L469.45,219.90 L470.04,221.91 L470.64,223.94 L471.24,226.00 L471.84,228.07" stroke="#77AC30" stroke-width="1.1" fill="none"/>
<g><path d="M38.60,113.67L34.10,110.97L34.10,116.37Z" fill="none" stroke="#77AC30" stroke-width="0.9"/><path d="M98.50,114.55L94.00,111.85L94.00,117.25Z" fill="none" stroke="#77AC30" stroke-width="0.9"/><path d="M114.60,114.78L110.10,112.08L110.10,117.48Z" fill="none" stroke="#77AC30" stroke-width="0.9"/><path d="M130.50,115.02L126.00,112.32L126.00,117.72Z" fill="none" stroke="#77AC30" stroke-width="0.9"/><path d="M145.40,115.24L140.90,112.54L140.90,117.94Z" fill="none" stroke="#77AC30" stroke-width="0.9"/><path d="M160.00,115.45L155.50,112.75L155.50,118.15Z" fill="none" stroke="#77AC30" stroke-width="0.9"/><path d="M175.30,115.67L170.80,112.97L170.80,118.37Z" fill="none" stroke="#77AC30" stroke-width="0.9"/><path d="M190.00,115.89L185.50,113.19L185.50,118.59Z" fill="none" stroke="#77AC30" stroke-width="0.9"/><path d="M204.50,116.10L200.00,113.40L200.00,118.80Z" fill="none" stroke="#77AC30" stroke-width="0.9"/><path d="M219.10,116.32L214.60,113.62L214.60,119.02Z" fill="none" stroke="#77AC30" stroke-width="0.9"/><path d="M234.10,116.54L229.60,113.84L229.60,119.24Z" fill="none" stroke="#77AC30" stroke-width="0.9"/><path d="M249.10,116.76L244.60,114.06L244.60,119.46Z" fill="none" stroke="#77AC30" stroke-width="0.9"/><path d="M264.10,116.98L259.60,114.28L259.60,119.68Z" fill="none" stroke="#77AC30" stroke-width="0.9"/><path d="M278.70,117.19L274.20,114.49L274.20,119.89Z" fill="none" stroke="#77AC30" stroke-width="0.9"/><path d="M293.80,117.42L289.30,114.72L289.30,120.12Z" fill="none" stroke="#77AC30" stroke-width="0.9"/><path d="M309.10,117.65L304.60,114.95L304.60,120.35Z" fill="none" stroke="#77AC30" stroke-width="0.9"/><path d="M324.00,117.88L319.50,115.18L319.50,120.58Z" fill="none" stroke="#77AC30" stroke-width="0.9"/><path d="M339.20,118.13L334.70,115.43L334.70,120.83Z" fill="none" stroke="#77AC30" stroke-width="0.9"/><path d="M353.60,118.42L349.10,115.72L349.10,121.12Z" fill="none" stroke="#77AC30" stroke-width="0.9"/><path d="M368.20,118.83L363.70,116.13L363.70,121.53Z" fill="none" stroke="#77AC30" stroke-width="0.9"/><path d="M382.40,119.52L377.90,116.82L377.90,122.22Z" fill="none" stroke="#77AC30" stroke-width="0.9"/><path d="M396.00,120.81L391.50,118.11L391.50,123.51Z" fill="none" stroke="#77AC30" stroke-width="0.9"/><path d="M409.90,123.63L405.40,120.93L405.40,126.33Z" fill="none" stroke="#77AC30" stroke-width="0.9"/><path d="M421.70,128.49L417.20,125.79L417.20,131.19Z" fill="none" stroke="#77AC30" stroke-width="0.9"/><path d="M432.50,136.54L428.00,133.84L428.00,139.24Z" fill="none" stroke="#77AC30" stroke-width="0.9"/><path d="M442.10,148.05L437.60,145.35L437.60,150.75Z" fill="none" stroke="#77AC30" stroke-width="0.9"/><path d="M450.40,162.26L445.90,159.56L445.90,164.96Z" fill="none" stroke="#77AC30" stroke-width="0.9"/><path d="M456.10,174.58L451.60,171.88L451.60,177.28Z" fill="none" stroke="#77AC30" stroke-width="0.9"/><path d="M460.80,186.34L456.30,183.64L456.30,189.04Z" fill="none" stroke="#77AC30" stroke-width="0.9"/><path d="M465.00,198.08L460.50,195.38L460.50,200.78Z" fill="none" stroke="#77AC30" stroke-width="0.9"/><path d="M467.58,205.83L463.08,203.13L463.08,208.53Z" fill="none" stroke="#77AC30" stroke-width="0.9"/><path d="M469.35,211.41L464.85,208.71L464.85,214.11Z" fill="none" stroke="#77AC30" stroke-width="0.9"/><path d="M470.55,215.29L466.05,212.59L466.05,217.99Z" fill="none" stroke="#77AC30" stroke-width="0.9"/><path d="M471.35,217.91L466.85,215.21L466.85,220.61Z" fill="none" stroke="#77AC30" stroke-width="0.9"/><path d="M471.95,219.90L467.45,217.20L467.45,222.60Z" fill="none" stroke="#77AC30" stroke-width="0.9"/><path d="M472.54,221.91L468.04,219.21L468.04,224.61Z" fill="none" stroke="#77AC30" stroke-width="0.9"/><path d="M473.14,223.94L468.64,221.24L468.64,226.64Z" fill="none" stroke="#77AC30" stroke-width="0.9"/><path d="M473.74,226.00L469.24,223.30L469.24,228.70Z" fill="none" stroke="#77AC30" stroke-width="0.9"/><path d="M474.34,228.07L469.84,225.37L469.84,230.77Z" fill="none" stroke="#77AC30" stroke-width="0.9"/></g>
<path d="M36.10,155.22 L37.16,155.22 L38.21,155.23 L39.25,155.23 L40.30,155.24 L41.35,155.24 L42.39,155.25 L43.44,155.25 L44.48,155.25 L45.53,155.26 L46.57,155.26 L47.62,155.27 L48.66,155.27 L49.71,155.28 L50.76,155.28 L51.80,155.29 L52.85,155.29 L53.89,155.30 L54.94,155.30 L55.98,155.31 L57.03,155.31 L58.07,155.31 L59.12,155.32 L60.17,155.32 L61.21,155.33 L62.26,155.33 L63.30,155.34 L64.35,155.34 L65.39,155.35 L66.44,155.35 L67.48,155.36 L68.53,155.36 L69.58,155.36 L70.62,155.37 L71.67,155.37 L72.71,155.38 L73.76,155.38 L74.80,155.39 L75.85,155.39 L76.89,155.40 L77.94,155.40 L78.99,155.41 L80.03,155.41 L81.08,155.41 L82.12,155.42 L83.17,155.42 L84.21,155.43 L85.26,155.43 L86.30,155.44 L87.35,155.44 L88.39,155.45 L89.44,155.45 L90.49,155.46 L91.53,155.46 L92.58,155.47 L93.62,155.47 L94.67,155.47 L95.71,155.48 L96.76,155.48 L97.80,155.49 L98.85,155.49 L99.90,155.50 L100.94,155.50 L101.99,155.51 L103.03,155.51 L104.08,155.52 L105.12,155.52 L106.17,155.52 L107.21,155.53 L108.26,155.53 L109.31,155.54 L110.35,155.54 L111.40,155.55 L112.44,155.55 L113.49,155.56 L114.53,155.56 L115.58,155.57 L116.62,155.57 L117.67,155.58 L118.72,155.58 L119.76,155.58 L120.81,155.59 L121.85,155.59 L122.90,155.60 L123.94,155.60 L124.99,155.61 L126.03,155.61 L127.08,155.62 L128.12,155.62 L129.17,155.63 L130.22,155.63 L131.26,155.63 L132.31,155.64 L133.35,155.64 L134.40,155.65 L135.44,155.65 L136.49,155.66 L137.53,155.66 L138.58,155.67 L139.63,155.67 L140.67,155.68 L141.72,155.68 L142.76,155.68 L143.81,155.69 L144.85,155.69 L145.90,155.70 L146.94,155.70 L147.99,155.71 L149.04,155.71 L150.08,155.72 L151.13,155.72 L152.17,155.73 L153.22,155.73 L154.26,155.74 L155.31,155.74 L156.35,155.74 L157.40,155.75 L158.45,155.75 L159.49,155.76 L160.54,155.76 L161.58,155.77 L162.63,155.77 L163.67,155.78 L164.72,155.78 L165.76,155.79 L166.81,155.79 L167.85,155.79 L168.90,155.80 L169.95,155.80 L170.99,155.81 L172.04,155.81 L173.08,155.82 L174.13,155.82 L175.17,155.83 L176.22,155.83 L177.26,155.84 L178.31,155.84 L179.36,155.84 L180.40,155.85 L181.45,155.85 L182.49,155.86 L183.54,155.86 L184.58,155.87 L185.63,155.87 L186.67,155.88 L187.72,155.88 L188.77,155.89 L189.81,155.89 L190.86,155.90 L191.90,155.90 L192.95,155.90 L193.99,155.91 L195.04,155.91 L196.08,155.92 L197.13,155.92 L198.18,155.93 L199.22,155.93 L200.27,155.94 L201.31,155.94 L202.36,155.95 L203.40,155.95 L204.45,155.95 L205.49,155.96 L206.54,155.96 L207.59,155.97 L208.63,155.97 L209.68,155.98 L210.72,155.98 L211.77,155.99 L212.81,155.99 L213.86,156.00 L214.90,156.00 L215.95,156.01 L216.99,156.01 L218.04,156.01 L219.09,156.02 L220.13,156.02 L221.18,156.03 L222.22,156.03 L223.27,156.04 L224.31,156.04 L225.36,156.05 L226.40,156.05 L227.45,156.06 L228.50,156.06 L229.54,156.06 L230.59,156.07 L231.63,156.07 L232.68,156.08 L233.72,156.08 L234.77,156.09 L235.81,156.09 L236.86,156.10 L237.91,156.10 L238.95,156.11 L240.00,156.11 L241.04,156.12 L242.09,156.12 L243.13,156.12 L244.18,156.13 L245.22,156.13 L246.27,156.14 L247.32,156.14 L248.36,156.15 L249.41,156.15 L250.45,156.16 L251.50,156.16 L252.54,156.17 L253.59,156.17 L254.63,156.18 L255.68,156.18 L256.73,156.19 L257.77,156.19 L258.82,156.19 L259.86,156.20 L260.91,156.20 L261.95,156.21 L263.00,156.21 L264.04,156.22 L265.09,156.22 L266.13,156.23 L267.18,156.23 L268.23,156.24 L269.27,156.24 L270.32,156.25 L271.36,156.25 L272.41,156.26 L273.45,156.26 L274.50,156.27 L275.54,156.27 L276.59,156.28 L277.64,156.28 L278.68,156.28 L279.73,156.29 L280.77,156.29 L281.82,156.30 L282.86,156.30 L283.91,156.31 L284.95,156.31 L286.00,156.32 L287.05,156.32 L288.09,156.33 L289.14,156.33 L290.18,156.34 L291.23,156.34 L292.27,156.35 L293.32,156.35 L294.36,156.36 L295.41,156.36 L296.46,156.37 L297.50,156.38 L298.55,156.38 L299.59,156.39 L300.64,156.39 L301.68,156.40 L302.73,156.40 L303.77,156.41 L304.82,156.41 L305.87,156.42 L306.91,156.42 L307.96,156.43 L309.00,156.44 L310.05,156.44 L311.09,156.45 L312.14,156.45 L313.18,156.46 L314.23,156.47 L315.28,156.47 L316.32,156.48 L317.37,156.49 L318.41,156.49 L319.46,156.50 L320.50,156.51 L321.55,156.51 L322.60,156.52 L323.64,156.53 L324.69,156.53 L325.73,156.54 L326.78,156.55 L327.82,156.56 L328.87,156.56 L329.92,156.57 L330.96,156.58 L332.01,156.59 L333.05,156.60 L334.10,156.61 L335.14,156.62 L336.19,156.63 L337.24,156.63 L338.28,156.64 L339.33,156.65 L340.37,156.67 L341.42,156.68 L342.46,156.69 L343.51,156.70 L344.56,156.71 L345.60,156.72 L346.65,156.74 L347.69,156.75 L348.74,156.76 L349.79,156.78 L350.83,156.79 L351.88,156.80 L352.92,156.82 L353.97,156.84 L355.02,156.85 L356.06,156.87 L357.11,156.89 L358.16,156.91 L359.20,156.93 L360.25,156.95 L361.29,156.97 L362.34,156.99 L363.39,157.01 L364.43,157.04 L365.48,157.06 L366.53,157.09 L367.57,157.12 L368.62,157.15 L369.67,157.18 L370.71,157.21 L371.76,157.24 L372.81,157.27 L373.85,157.31 L374.90,157.35 L375.95,157.39 L377.00,157.43 L378.04,157.47 L379.09,157.51 L380.14,157.56 L381.19,157.61 L382.23,157.66 L383.28,157.72 L384.33,157.77 L385.38,157.83 L386.43,157.90 L387.48,157.96 L388.52,158.03 L389.57,158.10 L390.62,158.18 L391.67,158.26 L392.72,158.34 L393.77,158.43 L394.82,158.52 L395.87,158.62 L396.92,158.72 L397.97,158.83 L399.02,158.95 L400.07,159.06 L401.13,159.19 L402.18,159.32 L403.23,159.46 L404.28,159.61 L405.34,159.76 L406.39,159.92 L407.44,160.09 L408.50,160.27 L409.55,160.45 L410.61,160.65 L411.66,160.86 L412.72,161.08 L413.78,161.31 L414.83,161.55 L415.89,161.80 L416.86,162.05 L417.83,162.31 L418.80,162.57 L419.78,162.86 L420.75,163.15 L421.72,163.46 L422.70,163.79 L423.67,164.13 L424.65,164.48 L425.63,164.86 L426.60,165.25 L427.58,165.66 L428.56,166.09 L429.54,166.55 L430.52,167.02 L431.42,167.47 L432.31,167.94 L433.21,168.43 L434.10,168.95 L435.00,169.48 L435.90,170.04 L436.80,170.62 L437.70,171.23 L438.61,171.87 L439.42,172.47 L440.23,173.09 L441.05,173.73 L441.87,174.40 L442.69,175.10 L443.51,175.83 L444.33,176.58 L445.06,177.27 L445.79,177.99 L446.53,178.74 L447.26,179.51 L448.00,180.31 L448.74,181.13 L449.48,181.99 L450.12,182.76 L450.77,183.56 L451.42,184.38 L452.08,185.22 L452.73,186.10 L453.38,187.00 L454.04,187.92 L454.70,188.88 L455.26,189.72 L455.83,190.58 L456.39,191.47 L456.96,192.38 L457.53,193.32 L458.10,194.28 L458.67,195.26 L459.25,196.27 L459.82,197.31 L460.30,198.19 L460.78,199.10 L461.26,200.02 L461.75,200.96 L462.23,201.93 L462.71,202.91 L463.20,203.92 L463.69,204.95 L464.17,206.00 L464.66,207.08 L465.15,208.18 L465.65,209.30 L466.14,210.45 L466.53,211.38 L466.93,212.34 L467.33,213.31 L467.72,214.29 L468.12,215.30 L468.52,216.32 L468.92,217.35 L469.32,218.41 L469.72,219.49 L470.13,220.58 L470.53,221.69 L470.94,222.83 L471.34,223.98 L471.75,225.15 L472.16,226.34 L472.57,227.56 L472.87,228.48" stroke="#2F88D0" stroke-width="1.1" fill="none"/>
<path d="M36.10,154.11 L90.40,154.54 L106.40,154.67 L121.90,154.80 L136.50,154.92 L151.40,155.04 L166.70,155.16 L181.80,155.28 L197.00,155.40 L212.00,155.53 L226.60,155.64 L241.40,155.76 L256.00,155.88 L271.00,156.00 L286.10,156.13 L301.20,156.25 L316.00,156.37 L330.70,156.50 L345.00,156.64 L360.10,156.83 L374.50,157.10 L389.20,157.62 L403.20,158.66 L416.40,160.75 L429.60,165.14 L439.40,171.09 L448.90,180.23 L454.50,187.59 L460.01,196.49 L464.14,204.27 L467.05,210.37 L469.02,214.76 L470.30,217.74 L471.20,219.89 L472.10,222.08 L473.00,224.32 L473.89,226.60" stroke="#E2622A" stroke-width="1.1" fill="none"/>
<g><path d="M33.90,151.91L38.30,156.31M33.90,156.31L38.30,151.91" stroke="#E05A20" stroke-width="0.9"/><path d="M88.20,152.34L92.60,156.74M88.20,156.74L92.60,152.34" stroke="#E05A20" stroke-width="0.9"/><path d="M104.20,152.47L108.60,156.87M104.20,156.87L108.60,152.47" stroke="#E05A20" stroke-width="0.9"/><path d="M119.70,152.60L124.10,157.00M119.70,157.00L124.10,152.60" stroke="#E05A20" stroke-width="0.9"/><path d="M134.30,152.72L138.70,157.12M134.30,157.12L138.70,152.72" stroke="#E05A20" stroke-width="0.9"/><path d="M149.20,152.84L153.60,157.24M149.20,157.24L153.60,152.84" stroke="#E05A20" stroke-width="0.9"/><path d="M164.50,152.96L168.90,157.36M164.50,157.36L168.90,152.96" stroke="#E05A20" stroke-width="0.9"/><path d="M179.60,153.08L184.00,157.48M179.60,157.48L184.00,153.08" stroke="#E05A20" stroke-width="0.9"/><path d="M194.80,153.20L199.20,157.60M194.80,157.60L199.20,153.20" stroke="#E05A20" stroke-width="0.9"/><path d="M209.80,153.33L214.20,157.73M209.80,157.73L214.20,153.33" stroke="#E05A20" stroke-width="0.9"/><path d="M224.40,153.44L228.80,157.84M224.40,157.84L228.80,153.44" stroke="#E05A20" stroke-width="0.9"/><path d="M239.20,153.56L243.60,157.96M239.20,157.96L243.60,153.56" stroke="#E05A20" stroke-width="0.9"/><path d="M253.80,153.68L258.20,158.08M253.80,158.08L258.20,153.68" stroke="#E05A20" stroke-width="0.9"/><path d="M268.80,153.80L273.20,158.20M268.80,158.20L273.20,153.80" stroke="#E05A20" stroke-width="0.9"/><path d="M283.90,153.93L288.30,158.33M283.90,158.33L288.30,153.93" stroke="#E05A20" stroke-width="0.9"/><path d="M299.00,154.05L303.40,158.45M299.00,158.45L303.40,154.05" stroke="#E05A20" stroke-width="0.9"/><path d="M313.80,154.17L318.20,158.57M313.80,158.57L318.20,154.17" stroke="#E05A20" stroke-width="0.9"/><path d="M328.50,154.30L332.90,158.70M328.50,158.70L332.90,154.30" stroke="#E05A20" stroke-width="0.9"/><path d="M342.80,154.44L347.20,158.84M342.80,158.84L347.20,154.44" stroke="#E05A20" stroke-width="0.9"/><path d="M357.90,154.63L362.30,159.03M357.90,159.03L362.30,154.63" stroke="#E05A20" stroke-width="0.9"/><path d="M372.30,154.90L376.70,159.30M372.30,159.30L376.70,154.90" stroke="#E05A20" stroke-width="0.9"/><path d="M387.00,155.42L391.40,159.82M387.00,159.82L391.40,155.42" stroke="#E05A20" stroke-width="0.9"/><path d="M401.00,156.46L405.40,160.86M401.00,160.86L405.40,156.46" stroke="#E05A20" stroke-width="0.9"/><path d="M414.20,158.55L418.60,162.95M414.20,162.95L418.60,158.55" stroke="#E05A20" stroke-width="0.9"/><path d="M427.40,162.94L431.80,167.34M427.40,167.34L431.80,162.94" stroke="#E05A20" stroke-width="0.9"/><path d="M437.20,168.89L441.60,173.29M437.20,173.29L441.60,168.89" stroke="#E05A20" stroke-width="0.9"/><path d="M446.70,178.03L451.10,182.43M446.70,182.43L451.10,178.03" stroke="#E05A20" stroke-width="0.9"/><path d="M452.30,185.39L456.70,189.79M452.30,189.79L456.70,185.39" stroke="#E05A20" stroke-width="0.9"/><path d="M457.81,194.29L462.21,198.69M457.81,198.69L462.21,194.29" stroke="#E05A20" stroke-width="0.9"/><path d="M461.94,202.07L466.34,206.47M461.94,206.47L466.34,202.07" stroke="#E05A20" stroke-width="0.9"/><path d="M464.85,208.17L469.25,212.57M464.85,212.57L469.25,208.17" stroke="#E05A20" stroke-width="0.9"/><path d="M466.82,212.56L471.22,216.96M466.82,216.96L471.22,212.56" stroke="#E05A20" stroke-width="0.9"/><path d="M468.10,215.54L472.50,219.94M468.10,219.94L472.50,215.54" stroke="#E05A20" stroke-width="0.9"/><path d="M469.00,217.69L473.40,222.09M469.00,222.09L473.40,217.69" stroke="#E05A20" stroke-width="0.9"/><path d="M469.90,219.88L474.30,224.28M469.90,224.28L474.30,219.88" stroke="#E05A20" stroke-width="0.9"/><path d="M470.80,222.12L475.20,226.52M470.80,226.52L475.20,222.12" stroke="#E05A20" stroke-width="0.9"/><path d="M471.69,224.40L476.09,228.80M471.69,228.80L476.09,224.40" stroke="#E05A20" stroke-width="0.9"/></g>
<path d="M468.84,214.35 L469.11,214.98 L469.39,215.62 L469.67,216.26 L469.95,216.91 L470.23,217.57 L470.51,218.24 L470.80,218.92 L471.08,219.60 L471.37,220.29 L471.65,220.99 L471.94,221.69 L472.23,222.41 L472.52,223.13 L472.81,223.86 L473.11,224.59 L473.40,225.34 L473.70,226.09 L473.99,226.85 L474.29,227.62 L474.59,228.40 L474.59,228.40" stroke="#E05A20" stroke-width="3.2" stroke-linecap="round" fill="none"/>
<path d="M471.08,219.60 L471.37,220.29 L471.65,220.99 L471.94,221.69 L472.23,222.41 L472.52,223.13 L472.81,223.86 L473.11,224.59 L473.40,225.34 L473.70,226.09 L473.99,226.85 L474.29,227.62 L474.59,228.40 L474.59,228.40" stroke="#E05A20" stroke-width="4.4" stroke-linecap="round" fill="none"/>
<g font-family="Liberation Sans, Arial, sans-serif" font-size="7.4" fill="#2E2E2E" stroke="#2E2E2E" stroke-width="0.12"><text x="36.10" y="270" text-anchor="middle">0</text><text x="137.65" y="270" text-anchor="middle">5</text><text x="239.20" y="270" text-anchor="middle">10</text><text x="340.75" y="270" text-anchor="middle">15</text><text x="442.30" y="270" text-anchor="middle">20</text><text x="543.85" y="270" text-anchor="middle">25</text><text x="33.8" y="261.88" text-anchor="end">−0.5</text><text x="33.8" y="225.80" text-anchor="end">0</text><text x="33.8" y="189.72" text-anchor="end">0.5</text><text x="33.8" y="153.63" text-anchor="end">1</text><text x="33.8" y="117.55" text-anchor="end">1.5</text><text x="33.8" y="81.46" text-anchor="end">2</text><text x="33.8" y="45.37" text-anchor="end">2.5</text><text x="33.8" y="9.29" text-anchor="end">3</text></g>
<g font-family="Liberation Sans, Arial, sans-serif" font-size="9.8" font-weight="bold" fill="#111"><text x="172.8" y="37.7">1039 W/m<tspan font-size="7.6" dy="-4.0">2</tspan></text><text x="172.4" y="69.8">861 W/m<tspan font-size="7.6" dy="-4.0">2</tspan></text><text x="171.6" y="108.5">682 W/m<tspan font-size="7.6" dy="-4.0">2</tspan></text><text x="171.3" y="146.3">467 W/m<tspan font-size="7.6" dy="-4.0">2</tspan></text></g>
<text x="288" y="279.7" text-anchor="middle" font-family="Liberation Sans, Arial, sans-serif" font-size="10" fill="#404040" stroke="#404040" stroke-width="0.15">Voltage (V)</text>
<text transform="translate(12.6,145.4) rotate(-90)" text-anchor="middle" font-family="Liberation Sans, Arial, sans-serif" font-size="9.8" fill="#404040" stroke="#404040" stroke-width="0.15">Current (A)</text>
<rect x="46.8" y="227.4" width="486.20" height="25.40" fill="#fff" stroke="#555" stroke-width="1"/>
<g><path d="M49.00,234.4H69.30" stroke="#EDB120" stroke-width="1.1"/><path d="M49.00,246.2H69.30" stroke="#8B3A9B" stroke-width="1.1"/><circle cx="59.15" cy="246.20" r="1.65" fill="#7E2F8E"/><path d="M173.30,234.4H193.60" stroke="#CF5570" stroke-width="1.1"/><path d="M173.30,246.2H193.60" stroke="#3892D8" stroke-width="1.1"/><path d="M183.45,243.00L185.45,246.20L183.45,249.40L181.45,246.20Z" fill="none" stroke="#1A7AC8" stroke-width="0.9"/><path d="M294.00,234.4H314.30" stroke="#B26BC4" stroke-width="1.1"/><path d="M294.00,246.2H314.30" stroke="#77AC30" stroke-width="1.1"/><path d="M306.65,246.20L302.15,243.50L302.15,248.90Z" fill="none" stroke="#77AC30" stroke-width="0.9"/><path d="M414.70,234.4H435.00" stroke="#2F88D0" stroke-width="1.1"/><path d="M414.70,246.2H435.00" stroke="#E2622A" stroke-width="1.1"/><path d="M422.65,244.00L427.05,248.40M422.65,248.40L427.05,244.00" stroke="#E05A20" stroke-width="0.9"/></g>
<g font-family="Liberation Sans, Arial, sans-serif" font-size="7.6" fill="#2A2A33" stroke="#2A2A33" stroke-width="0.18" word-spacing="-0.5"><text x="71.40" y="239">Measured Dusty, 1039 W/m<tspan font-size="6.1" dx="-0.4" dy="-4.9">2</tspan></text><text x="71.40" y="250.5">Calculated Dusty, 1039 W/m<tspan font-size="6.1" dx="-0.4" dy="-4.9">2</tspan></text><text x="195.70" y="239">Measured Dusty, 861 W/m<tspan font-size="6.1" dx="-0.4" dy="-4.9">2</tspan></text><text x="195.70" y="250.5">Calculated Dusty, 861 W/m<tspan font-size="6.1" dx="-0.4" dy="-4.9">2</tspan></text><text x="316.40" y="239">Measured Dusty, 682 W/m<tspan font-size="6.1" dx="-0.4" dy="-4.9">2</tspan></text><text x="316.40" y="250.5">Calculated Dusty, 682 W/m<tspan font-size="6.1" dx="-0.4" dy="-4.9">2</tspan></text><text x="437.10" y="239">Measured Dusty, 467 W/m<tspan font-size="6.1" dx="-0.4" dy="-4.9">2</tspan></text><text x="437.10" y="250.5">Calculated Dusty, 467 W/m<tspan font-size="6.1" dx="-0.4" dy="-4.9">2</tspan></text></g>
<text x="276.5" y="311.0" text-anchor="middle" font-family="Liberation Serif, Times New Roman, serif" font-size="17.5" font-weight="bold" fill="#111">(b)</text>
</svg>
</body></html>
